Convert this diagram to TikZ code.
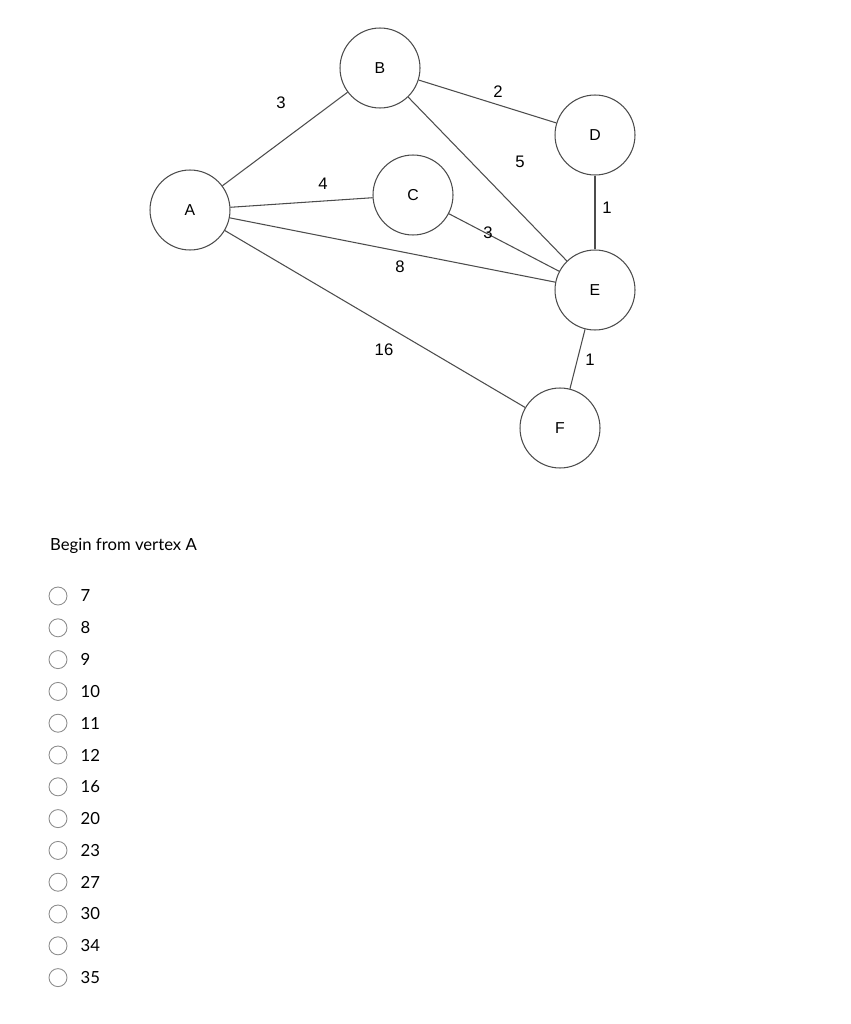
\documentclass[tikz,border=0pt]{standalone}
\usepackage{fontspec}
\setmainfont{Liberation Sans}
\newfontfamily\optfont{Lato}
\usetikzlibrary{positioning}

\begin{document}
\begin{tikzpicture}[x=0.02cm, y=-0.02cm,
	vertex/.style={circle, draw=black!70, line width=0.6pt, minimum size=1.6cm, inner sep=0pt, font=\fontsize{9}{10}\selectfont},
	edge/.style={draw=black!70, line width=0.6pt},
	wt/.style={font=\fontsize{9.5}{10}\selectfont},
	opt/.style={circle, draw=black!45, line width=0.5pt, minimum size=0.36cm, inner sep=0pt},
	txt/.style={font=\optfont\fontsize{9.5}{11}\selectfont, anchor=west}]
	\useasboundingbox (0,0) rectangle (851,1024);

	\node [vertex] (A) at (190,210) {A};
	\node [vertex] (B) at (380,68) {B};
	\node [vertex] (C) at (413,195) {C};
	\node [vertex] (D) at (595,135) {D};
	\node [vertex] (E) at (595,290) {E};
	\node [vertex] (F) at (560,428) {F};

	\draw [edge] (A) -- (B);
	\draw [edge] (A) -- (C);
	\draw [edge] (A) -- (E);
	\draw [edge] (A) -- (F);
	\draw [edge] (B) -- (D);
	\draw [edge] (B) -- (E);
	\draw [edge] (C) -- (E);
	\draw [edge] (D) -- (E);
	\draw [edge] (E) -- (F);

	\node [wt] at (281,103) {3};
	\node [wt] at (498,92) {2};
	\node [wt] at (520,162) {5};
	\node [wt] at (323,184) {4};
	\node [wt] at (607,208) {1};
	\node [wt] at (488,233) {3};
	\node [wt] at (400,267) {8};
	\node [wt] at (384,350) {16};
	\node [wt] at (590,360) {1};

	\node [txt] (q) at (44,546) {Begin from vertex A};

	\foreach \v [count=\i from 0] in {7,8,9,10,11,12,16,20,23,27,30,34,35} {
		\node [opt] (o\i) at (58,596+31.8*\i) {};
		\node [txt, right=4pt of o\i] {\v};
	}
\end{tikzpicture}
\end{document}
